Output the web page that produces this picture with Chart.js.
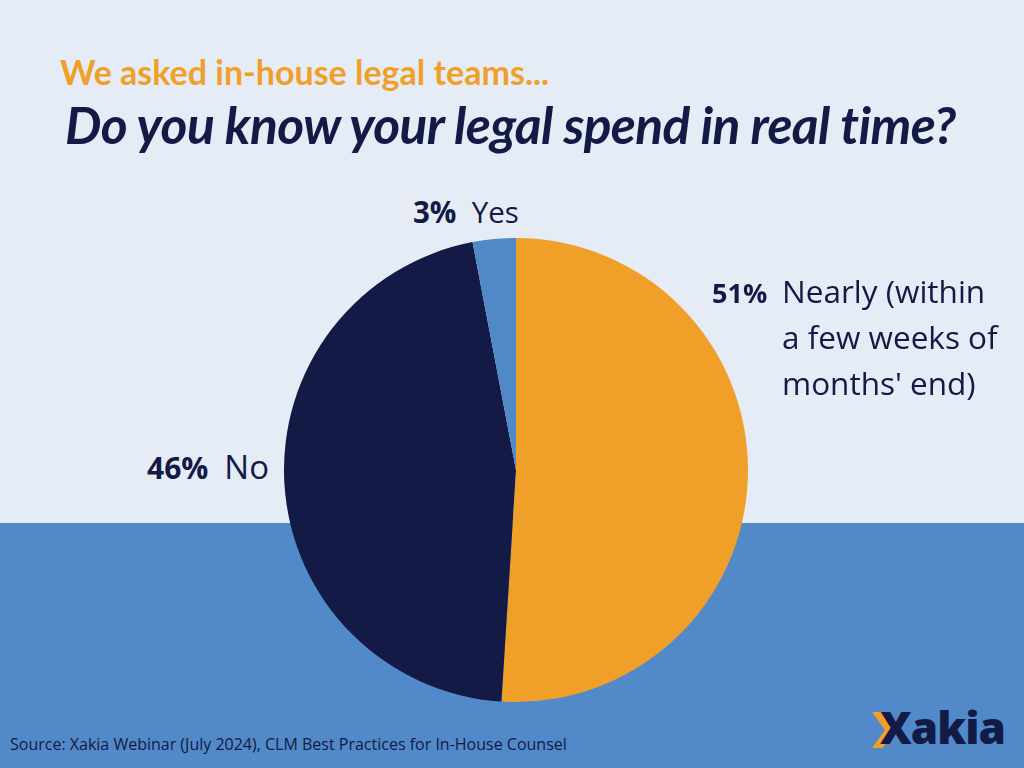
<!DOCTYPE html>
<html>
<head>
<meta charset="utf-8">
<script src="https://cdn.jsdelivr.net/npm/chart.js@4/dist/chart.umd.min.js"></script>
<style>
  html, body { margin: 0; padding: 0; }
  body { width: 1024px; height: 768px; position: relative; overflow: hidden;
         background: linear-gradient(to bottom, #E5ECF6 0px, #E5ECF6 523px, #5289C8 523px, #5289C8 768px);
         font-family: "Open Sans", sans-serif; color: #121A45; }
  .abs { position: absolute; white-space: nowrap; }
  #sub { left: 60px; top: 51px; font-family: Lato, sans-serif; font-weight: 700; font-size: 34px; color: #F0A028; }
  #title { left: 65px; top: 93px; font-family: Lato, sans-serif; font-weight: 700; font-style: italic; font-size: 51.5px; color: #121A45; letter-spacing: -0.6px; }
  #chartWrap { position: absolute; left: 284px; top: 238px; width: 464px; height: 464px; }
  .pct { font-weight: 700; }
  .lbl { font-size: 31.5px; line-height: 46px; }
  #source { left: 10px; top: 733px; font-size: 16px; color: #121A45; }
  #logo { left: 870px; top: 697px; font-family: "Open Sans", sans-serif; font-weight: 800; font-size: 44px; color: #121A45; letter-spacing: -1px; }
</style>
</head>
<body>
<div id="sub" class="abs">We asked in-house legal teams...</div>
<div id="title" class="abs">Do you know your legal spend in real time?</div>
<div id="chartWrap"><canvas id="c" width="464" height="464"></canvas></div>

<div class="abs lbl" style="left:413px; top:189px; font-size:29.5px;"><span class="pct">3%</span>&nbsp;&nbsp;Yes</div>
<div class="abs lbl" style="left:712px; top:268px;"><span class="pct" style="font-size:27px;">51%</span></div>
<div class="abs lbl" style="left:782px; top:268px;">Nearly (within<br>a few weeks of<br>months' end)</div>
<div class="abs lbl" style="left:147px; top:444px; font-size:33px;"><span class="pct" style="font-size:30px;">46%</span><span style="margin-left:16px;">No</span></div>

<div id="source" class="abs">Source: Xakia Webinar (July 2024), CLM Best Practices for In-House Counsel</div>
<div id="logo" class="abs"><svg width="30" height="36" viewBox="0 0 28 34" style="position:absolute; left:2px; top:15px;"><polygon points="0,0 10,0 22,17 10,34 0,34 12,17" fill="#F0A028"/></svg><span style="position:relative; left:10px;">Xakia</span></div>

<script>
const categories = ["Nearly (within a few weeks of months' end)", "No", "Yes"];
const values = [51, 46, 3];
const colors = ["#F0A028", "#121A45", "#5088C8"];

new Chart(document.getElementById('c'), {
  type: 'pie',
  data: {
    labels: categories,
    datasets: [{ data: values, backgroundColor: colors, borderWidth: 0 }]
  },
  options: {
    responsive: false,
    animation: false,
    layout: { padding: 0 },
    plugins: { legend: { display: false }, tooltip: { enabled: false } }
  }
});
</script>
</body>
</html>
